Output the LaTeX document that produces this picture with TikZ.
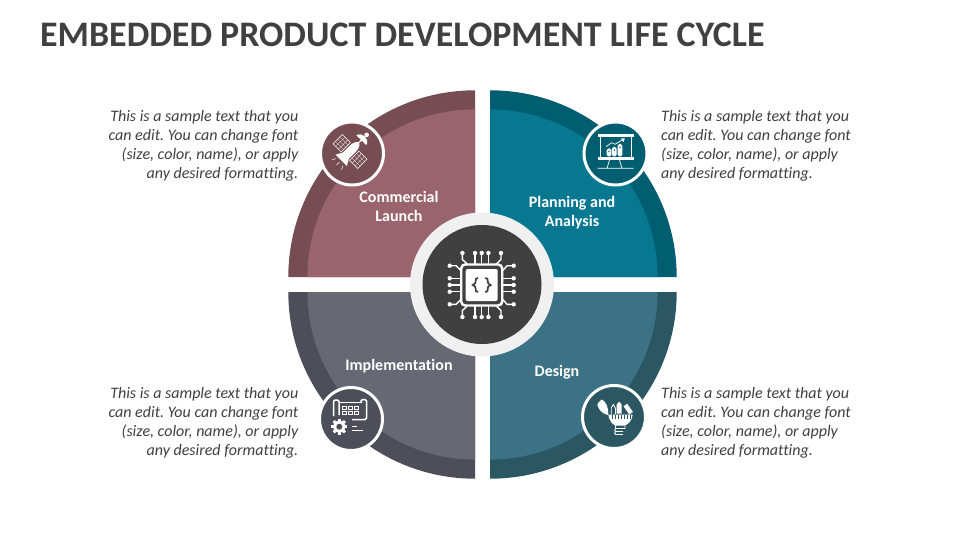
\documentclass[tikz,border=0pt]{standalone}
\usepackage{fontspec}
\setmainfont[Ligatures=NoCommon]{Carlito}
\frenchspacing
\definecolor{ink}{HTML}{404040}
\definecolor{ring}{HTML}{F0F0F0}
\definecolor{mard}{HTML}{774D54}
\definecolor{marl}{HTML}{9A646E}
\definecolor{teald}{HTML}{005E70}
\definecolor{teall}{HTML}{087891}
\definecolor{slated}{HTML}{4E4E5A}
\definecolor{slatel}{HTML}{686874}
\definecolor{blued}{HTML}{2B5763}
\definecolor{bluel}{HTML}{3B7285}
\tikzset{
  body/.style={font=\fontsize{16}{19.2}\selectfont\itshape,text=ink,inner sep=0pt},
  bodyl/.style={body,align=right,anchor=east},
  bodyr/.style={body,align=left,anchor=west},
  lab/.style={font=\fontsize{16}{19.2}\selectfont\bfseries,text=white,align=center,inner sep=0pt},
  badge/.style={circle,draw=white,line width=3pt,minimum size=63pt,inner sep=0pt},
  wl/.style={draw=white,line width=.8pt},
  wf/.style={fill=white}
}
\newcommand{\quadr}[5]{% cx cy startangle dark light
  \fill[#4] (#1,#2) -- ++(#3:186.7) arc[start angle=#3,end angle=#3+90,radius=186.7] -- cycle;
  \fill[#5] (#1,#2) -- ++(#3:167.6) arc[start angle=#3,end angle=#3+90,radius=167.6] -- cycle;
}
\begin{document}
\begin{tikzpicture}[x=1pt,y=-1pt]
\useasboundingbox (0,0) rectangle (960,540);
\fill[white] (0,0) rectangle (960,540);
\node[anchor=base west,inner sep=0pt,text=ink,font=\fontsize{35.9}{40}\selectfont\bfseries] (title) at (40,46.5) {EMBEDDED PRODUCT DEVELOPMENT LIFE CYCLE};
% quadrants
\quadr{475}{277}{180}{mard}{marl}
\quadr{490}{277}{270}{teald}{teall}
\quadr{490}{292}{0}{blued}{bluel}
\quadr{475}{292}{90}{slated}{slatel}
% centre
\node[circle,fill=ring,minimum size=144pt,inner sep=0pt] (hubring) at (482,284.5) {};
\node[circle,fill=ink,minimum size=119pt,inner sep=0pt] (hub) at (482,284.5) {};
\begin{scope}[shift={(481.7,285)}]
  \draw[wl,line width=2.4pt,rounded corners=4pt] (-20.5,-20.5) rectangle (20.5,20.5);
  \fill[white,rounded corners=2pt] (-16,-16) rectangle (16,16);
  \foreach \r in {0,90,180,270}{
    \begin{scope}[rotate=\r]
      \foreach \a in {-6.7,0,6.7}{
        \draw[wl,line width=1.4pt] (\a,-21) -- (\a,-32);
        \fill[white] (\a,-32) circle (2.2pt);
      }
      \draw[wl,line width=1.4pt] (-14.5,-21) -- (-19.3,-25.5) -- (-19.3,-32);
      \fill[white] (-19.3,-32) circle (2.2pt);
      \draw[wl,line width=1.4pt] (14.5,-21) -- (19.3,-25.5) -- (19.3,-32);
      \fill[white] (19.3,-32) circle (2.2pt);
    \end{scope}
  }
  \foreach \s in {-1,1}{
    \draw[ink,line width=1.7pt,xscale=\s] (3.5,-7) .. controls (6,-7) and (6,-6) .. (6,-4) .. controls (6,-2) and (6.5,-1) .. (9,0) .. controls (6.5,1) and (6,2) .. (6,4) .. controls (6,6) and (6,7) .. (3.5,7);
  }
\end{scope}
% badges
\node[badge,fill=mard] (bA) at (352,153.5) {};
\node[badge,fill=teald] (bB) at (615.5,153.5) {};
\node[badge,fill=blued] (bC) at (614,417) {};
\node[badge,fill=slated] (bD) at (351,419) {};
% satellite
\begin{scope}[shift={(350,151.5)},rotate=-45]
  \foreach \s in {-1,1}{
    \begin{scope}[xscale=\s]
      \draw[wl,line width=.6pt] (6,-6.5) rectangle (17.5,6.5);
      \foreach \k in {-3.2,0,3.2}{\draw[wl,line width=.25pt] (6,\k) -- (17.5,\k);}
      \foreach \k in {9.8,13.6}{\draw[wl,line width=.25pt] (\k,-6.5) -- (\k,6.5);}
    \end{scope}
  }
  \fill[white] (-4.4,6) -- (-4.4,-3) .. controls (-4.4,-9) and (-2,-12) .. (0,-13) .. controls (2,-12) and (4.4,-9) .. (4.4,-3) -- (4.4,6) -- (8,12.5) -- (-8,12.5) -- cycle;
  \draw[wl,line width=1.2pt] (0,-13) -- (0,-17);
  \fill[white] (-7,-16) .. controls (-5,-23) and (5,-23) .. (7,-16) -- cycle;
  \fill[white] (0,-23.5) circle (2.3pt);
  \foreach \a in {-5,0,5}{\draw[wl,line width=.5pt] (\a,15) -- (\a*1.4,19);}
\end{scope}
% chart
\begin{scope}[shift={(615.5,153.5)}]
  \fill[white] (-18,-19.5) rectangle (18,-16.5);
  \fill[white] (-18,3.2) rectangle (18,6.5);
  \draw[wl,line width=.6pt] (-15.5,-16.5) -- (-15.5,3.2) (15.5,-16.5) -- (15.5,3.2);
  \draw[wl,line width=.7pt] (-6,6.5) -- (-8.5,14.8) (4,6.5) -- (6.5,14.8) (-18,14.8) -- (18,14.8);
  \foreach \bx/\by in {-6.5/-5,-1.2/-6.5,4.5/-9.5}{
    \fill[white,rounded corners=1.8pt] (\bx-2.4,\by) rectangle (\bx+2.4,3);
    \fill[teald] (\bx,\by+3.2) circle (.8pt);
  }
  \draw[wl,line width=.7pt] (-9.5,-6.8) -- (-3.8,-10.8) -- (-.5,-9.2) -- (7,-13.7);
  \fill[white] (9.3,-15) -- (5.6,-15) -- (7.9,-11.4) -- cycle;
\end{scope}
% blueprint
\begin{scope}[shift={(351,419)}]
  \draw[wl,line width=1.5pt,rounded corners=1.5pt] (-17.5,-3) -- (-17.5,-19) -- (-12,-19) -- (-12,-4);
  \draw[wl,line width=1.5pt,rounded corners=1.5pt] (10,-16) -- (10,-19.5) -- (15.5,-19.5) -- (15.5,0.5) -- (1,0.5);
  \draw[wl,line width=1.2pt] (-12,-16.5) -- (10,-16.5);
  \foreach \i in {0,1,2}{\foreach \j in {0,1}{
    \draw[wl,line width=.8pt] (-9+\i*6,-13+\j*5) rectangle ++(4.2,3.4);
  }}
  \fill[white] (-11.7,7.7) circle (6pt);
  \foreach \q in {0,45,...,315}{\fill[white,rotate around={\q:(-11.7,7.7)}] (-13.2,-0.3) rectangle (-10.2,2.7);}
  \fill[slated] (-11.7,7.7) circle (3pt);
  \draw[wl,line width=.6pt] (.7,7.7) -- (5.7,7.7);
  \draw[wl,line width=.9pt] (.7,11) -- (12.3,11);
\end{scope}
% design
\begin{scope}[shift={(614,417)}]
  \fill[white] (-5.7,-2) .. controls (-5,-8) and (-8,-16) .. (-12.3,-17.5) .. controls (-15,-15) and (-17,-13) .. (-16.7,-12) .. controls (-15,-6) and (-10,-2.5) .. (-5.7,-2) -- cycle;
  \draw[wl,line width=.8pt] (-2.8,-3) -- (-2.8,-9) -- (-.7,-12.5) -- (1.4,-9) -- (1.4,-3);
  \fill[white] (2.7,-3.5) -- (2.7,-12.5) -- (5.2,-15.5) -- (7.7,-12.5) -- (7.7,-3.5) -- cycle;
  \fill[white,rotate around={35:(14.5,-7.5)}] (12.3,-13) rectangle (16.7,-3);
  \fill[white] (-5.7,-2.5) -- (18.7,-2.5) .. controls (18,3) and (15,7) .. (11,8.5) -- (1,8.5) .. controls (-2,7) and (-5,3) .. (-5.7,-2.5) -- cycle;
  \foreach \k in {-2,1,4,7,10,13,16}{\draw[blued,line width=.45pt] (\k,-2) -- (\k,2);}
  \draw[wl,line width=.9pt] (1.5,8.5) -- (1.5,11.5) -- (11,11.5) -- (11,8.5) (1.5,11.5) .. controls (.3,13) and (.5,14) .. (1.5,14.5) -- (9,14.5) (1.5,14.5) .. controls (.3,16) and (.5,17) .. (1.5,17.5) -- (9,17.5);
\end{scope}
% labels
\node[lab] (lA) at (399,206.7) {Commercial\\Launch};
\node[lab] (lB) at (572,212.6) {Planning and\\Analysis};
\node[lab] (lC) at (557,372.4) {Design};
\node[lab] (lD) at (399,365.7) {Implementation};
% texts
\node[bodyl] (tA) at (298.5,145.8) {This is a sample text that you\\can edit. You can change font\\(size, color, name), or apply\\any desired formatting.};
\node[bodyr] (tB) at (661,145.8) {This is a sample text that you\\can edit. You can change font\\(size, color, name), or apply\\any desired formatting.};
\node[bodyl] (tD) at (298.5,422.8) {This is a sample text that you\\can edit. You can change font\\(size, color, name), or apply\\any desired formatting.};
\node[bodyr] (tC) at (661,422.8) {This is a sample text that you\\can edit. You can change font\\(size, color, name), or apply\\any desired formatting.};
\end{tikzpicture}
\end{document}
